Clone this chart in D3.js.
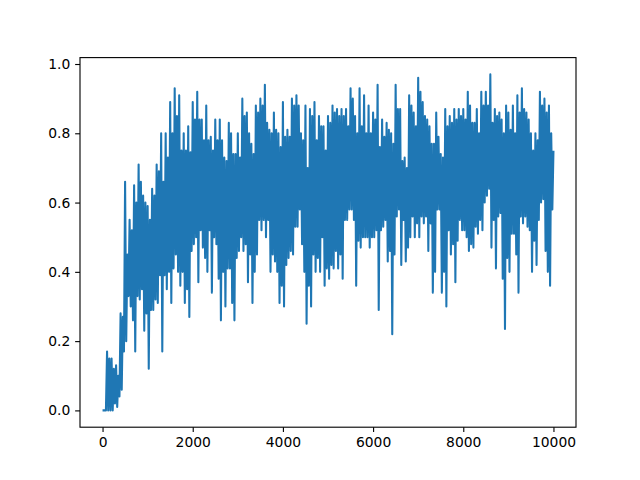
<!DOCTYPE html>
<html><head><meta charset="utf-8">
<script src="https://cdn.jsdelivr.net/npm/d3@7"></script>
<style>body{margin:0;background:#fff}svg{display:block}text{font-family:"DejaVu Sans",sans-serif;font-size:13.89px;fill:#000}</style>
</head><body>
<script>
// Values, one bin every 100 steps (x = 0 .. 10000)
const binStep = 100;
// highest spike in each bin
const peaks = [0,0.17,0.15,0.13,0.28,0.66,0.55,0.65,0.71,0.62,
  0.59,0.64,0.71,0.80,0.80,0.89,0.93,0.91,0.80,0.82,
  0.89,0.92,0.84,0.88,0.79,0.84,0.84,0.73,0.83,0.74,
  0.80,0.90,0.86,0.77,0.88,0.90,0.94,0.81,0.86,0.80,
  0.89,0.81,0.90,0.91,0.80,0.88,0.87,0.89,0.85,0.82,
  0.85,0.88,0.87,0.87,0.87,0.93,0.85,0.93,0.91,0.88,
  0.86,0.94,0.84,0.83,0.80,0.94,0.87,0.73,0.91,0.86,
  0.96,0.89,0.84,0.77,0.86,0.74,0.87,0.85,0.87,0.87,
  0.87,0.92,0.83,0.87,0.92,0.92,0.97,0.87,0.86,0.80,
  0.86,0.88,0.91,0.93,0.86,0.80,0.80,0.92,0.90,0.88,0.75];
// lowest dip in each bin
const troughs = [0,0,0,0.01,0.06,0.20,0.30,0.17,0.32,0.23,
  0.12,0.29,0.31,0.17,0.35,0.31,0.45,0.36,0.31,0.27,
  0.48,0.37,0.47,0.40,0.34,0.48,0.26,0.30,0.41,0.26,
  0.46,0.46,0.37,0.31,0.45,0.52,0.50,0.40,0.43,0.31,
  0.30,0.44,0.45,0.53,0.48,0.25,0.30,0.40,0.40,0.36,
  0.38,0.41,0.41,0.38,0.55,0.58,0.36,0.47,0.50,0.47,
  0.50,0.29,0.53,0.43,0.22,0.56,0.42,0.43,0.50,0.50,
  0.50,0.54,0.46,0.34,0.58,0.34,0.30,0.45,0.37,0.55,
  0.52,0.46,0.47,0.51,0.52,0.62,0.47,0.41,0.57,0.235,
  0.40,0.51,0.34,0.54,0.53,0.40,0.42,0.60,0.46,0.36,0.58];
// second highest spike in each bin
const peaks2 = [0,0.15,0.12,0.10,0.27,0.45,0.52,0.60,0.66,0.60,
  0.55,0.62,0.69,0.66,0.73,0.80,0.85,0.75,0.75,0.745,
  0.84,0.84,0.78,0.78,0.75,0.78,0.78,0.72,0.80,0.74,
  0.73,0.85,0.80,0.74,0.86,0.88,0.83,0.80,0.81,0.76,
  0.79,0.79,0.88,0.88,0.78,0.70,0.85,0.78,0.82,0.75,
  0.83,0.86,0.85,0.85,0.82,0.90,0.80,0.82,0.80,0.80,
  0.84,0.76,0.79,0.81,0.77,0.87,0.72,0.70,0.88,0.82,
  0.92,0.85,0.82,0.77,0.79,0.73,0.82,0.83,0.84,0.85,
  0.84,0.88,0.83,0.80,0.88,0.88,0.83,0.85,0.84,0.88,
  0.81,0.80,0.86,0.87,0.84,0.75,0.78,0.88,0.86,0.80,0.70];
// second lowest dip in each bin
const troughs2 = [0,0,0.02,0.04,0.17,0.33,0.26,0.33,0.35,0.28,
  0.29,0.32,0.39,0.39,0.40,0.41,0.40,0.40,0.35,0.46,
  0.50,0.52,0.44,0.52,0.50,0.38,0.40,0.41,0.31,0.44,
  0.50,0.48,0.45,0.40,0.55,0.55,0.55,0.45,0.40,0.36,
  0.42,0.46,0.53,0.58,0.40,0.36,0.45,0.44,0.50,0.41,
  0.42,0.46,0.45,0.55,0.58,0.55,0.49,0.50,0.50,0.50,
  0.52,0.52,0.55,0.46,0.45,0.58,0.55,0.47,0.56,0.54,
  0.56,0.56,0.54,0.40,0.58,0.40,0.52,0.48,0.49,0.52,
  0.50,0.48,0.53,0.55,0.60,0.64,0.55,0.56,0.38,0.44,
  0.51,0.45,0.56,0.56,0.52,0.49,0.55,0.61,0.40,0.58,0.62];
const xTicks = [0,2000,4000,6000,8000,10000];
const yTicks = [0.0,0.2,0.4,0.6,0.8,1.0];
const xMax = 10000;

// each bin visited as: spike, dip, second spike, second dip
const series = [];
peaks.forEach((p,i)=>{
  [p, troughs[i], peaks2[i], troughs2[i]].forEach((v,k)=>{
    const xv = i*binStep + k*binStep/4;
    if (xv <= xMax) series.push({x:xv, y:v});
  });
});

const W=640,H=480, L=80, T=57.6, PW=496, PH=369.6;
const PT = 100/72; // matplotlib points -> px at dpi 100
const svg=d3.select("body").append("svg").attr("width",W).attr("height",H);
const xe=d3.extent(series,d=>d.x), ye=d3.extent(series,d=>d.y);
const xp=(xe[1]-xe[0])*0.05, yp=(ye[1]-ye[0])*0.05;
const x=d3.scaleLinear().domain([xe[0]-xp,xe[1]+xp]).range([L,L+PW]);
const y=d3.scaleLinear().domain([ye[0]-yp,ye[1]+yp]).range([T+PH,T]);

const clip = svg.append("clipPath").attr("id","pc").append("rect")
  .attr("x",L).attr("y",T).attr("width",PW).attr("height",PH);

svg.append("path").datum(series).attr("clip-path","url(#pc)")
  .attr("fill","none").attr("stroke","#1f77b4").attr("stroke-width",1.5*PT)
  .attr("stroke-linejoin","round").attr("stroke-linecap","butt")
  .attr("d",d3.line().x(d=>x(d.x)).y(d=>y(d.y)));

svg.append("rect").attr("x",L).attr("y",T).attr("width",PW).attr("height",PH)
  .attr("fill","none").attr("stroke","#000").attr("stroke-width",0.8*PT);

const xa=svg.append("g").attr("transform",`translate(0,${T+PH})`)
  .call(d3.axisBottom(x).tickValues(xTicks).tickFormat(d3.format("d")).tickSize(3.5*PT).tickPadding(3.5*PT));
const ya=svg.append("g").attr("transform",`translate(${L},0)`)
  .call(d3.axisLeft(y).tickValues(yTicks).tickFormat(d3.format(".1f")).tickSize(3.5*PT).tickPadding(3.5*PT));
[xa,ya].forEach(a=>{
  a.select(".domain").remove();
  a.selectAll(".tick line").attr("stroke","#000").attr("stroke-width",0.8*PT);
  a.selectAll(".tick text").attr("font-family","DejaVu Sans, sans-serif").attr("font-size",(10*PT)+"px").attr("fill","#000");
});
</script>
</body></html>
